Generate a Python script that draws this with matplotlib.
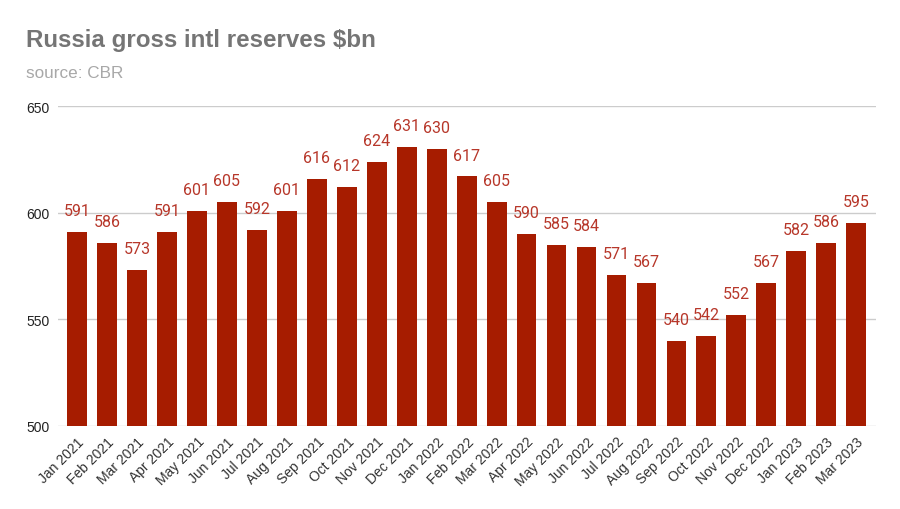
import matplotlib
matplotlib.use('Agg')
import matplotlib.pyplot as plt

months = ['Jan 2021', 'Feb 2021', 'Mar 2021', 'Apr 2021', 'May 2021', 'Jun 2021',
          'Jul 2021', 'Aug 2021', 'Sep 2021', 'Oct 2021', 'Nov 2021', 'Dec 2021',
          'Jan 2022', 'Feb 2022', 'Mar 2022', 'Apr 2022', 'May 2022', 'Jun 2022',
          'Jul 2022', 'Aug 2022', 'Sep 2022', 'Oct 2022', 'Nov 2022', 'Dec 2022',
          'Jan 2023', 'Feb 2023', 'Mar 2023']
reserves = [591, 586, 573, 591, 601, 605, 592, 601, 616, 612, 624, 631,
            630, 617, 605, 590, 585, 584, 571, 567, 540, 542, 552, 567,
            582, 586, 595]
yticks = [500, 550, 600, 650]

fig = plt.figure(figsize=(9, 5.1), dpi=100)
ax = fig.add_axes([0.064, 0.163, 0.909, 0.627])

x = list(range(len(months)))
ax.bar(x, reserves, width=0.66, color='#a61c00', zorder=3)
for xi, v in zip(x, reserves):
    ax.text(xi, v + 6.5, str(v), ha='center', va='bottom', fontsize=11.5,
            color='#b7372a', family='Roboto')

ax.set_ylim(500, 650)
ax.set_xlim(-0.65, len(months) - 0.35)
ax.set_yticks(yticks)
ax.set_yticklabels([str(t) for t in yticks], fontsize=10, color='#222222', family='Liberation Sans')
ax.set_xticks(x)
ax.set_xticklabels(months, rotation=45, ha='right', rotation_mode='anchor',
                   fontsize=10, color='#333333', family='Liberation Sans')
ax.grid(axis='y', color='#cccccc', linewidth=1, zorder=0)
for s in ax.spines.values():
    s.set_visible(False)
ax.tick_params(axis='both', length=0, pad=6)

fig.text(0.029, 0.908, 'Russia gross intl reserves $bn', fontsize=17.4, fontweight='bold',
         color='#757575', family='Liberation Sans', va='baseline')
fig.text(0.029, 0.848, 'source: CBR', fontsize=12.3, color='#a8a8a8',
         family='Liberation Sans', va='baseline')

fig.savefig('out.png', dpi=100)
